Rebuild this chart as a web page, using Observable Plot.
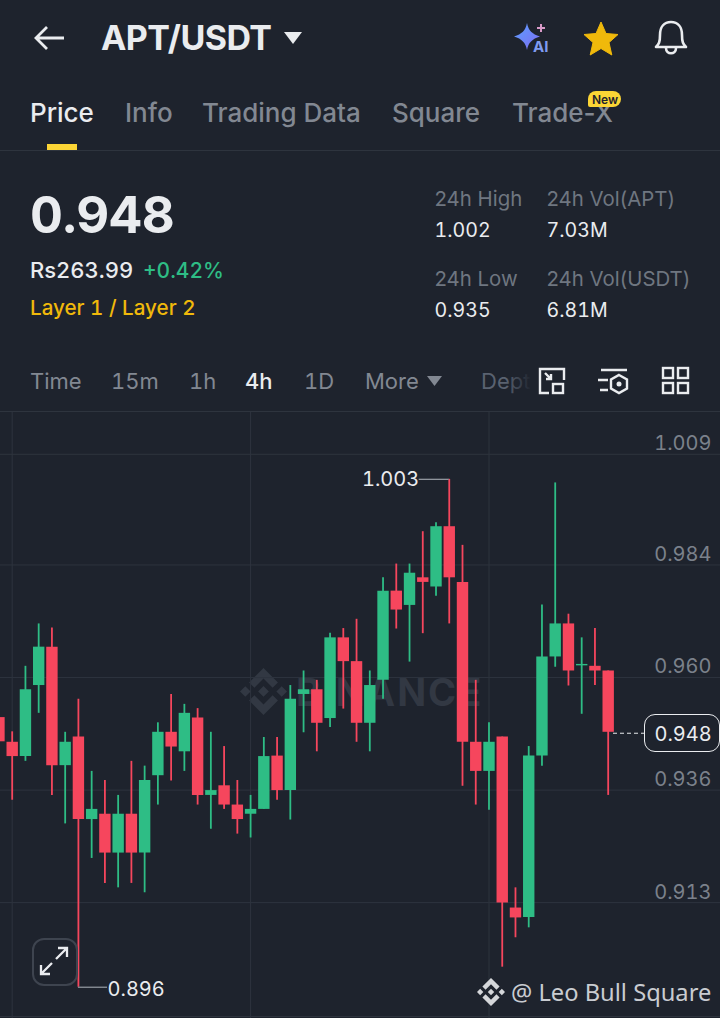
<!DOCTYPE html>
<html>
<head>
<meta charset="utf-8">
<script src="https://cdn.jsdelivr.net/npm/d3@7"></script>
<script src="https://cdn.jsdelivr.net/npm/@observablehq/plot@0.6"></script>
<style>
html,body{margin:0;padding:0;background:#1e232d;}
#page{position:relative;width:720px;height:1018px;overflow:hidden;background:#1e232d;font-family:Inter,"Noto Sans",sans-serif;color:#eaecef;font-variant-numeric:tabular-nums;}
.t{position:absolute;line-height:1;white-space:nowrap;transform:translateY(-50%);}
.b{position:absolute;}
svg.i{position:absolute;overflow:visible;}
#chart{position:absolute;left:0;top:412px;width:720px;height:606px;}
#chart svg{background:transparent!important;}
</style>
</head>
<body>
<div id="page"></div>
<script>
// ---------- chart data (price per 4h candle, oldest first) ----------
const candleIndex = d3.range(-1, 46);
const openPrice = [.9513,.9461,.9431,.9581,.9663,.9412,.9472,.9300,.9311,.9231,.9311,.9231,.9391,.9482,.9441,.9512,.9350,.9370,.9330,.9311,.9321,.9432,.9360,.9562,.9572,.9511,.9683,.9632,.9501,.9592,.9784,.9753,.9813,.9793,.9925,.9803,.9461,.9400,.9472,.9119,.9100,.9432,.9642,.9713,.9623,.9622,.9612];
const closePrice = [.9462,.9431,.9572,.9663,.9412,.9461,.9300,.9321,.9231,.9311,.9231,.9381,.9482,.9451,.9522,.9350,.9360,.9330,.9300,.9321,.9431,.9360,.9552,.9572,.9501,.9683,.9632,.9501,.9581,.9784,.9743,.9823,.9803,.9925,.9813,.9461,.9400,.9461,.9129,.9099,.9432,.9642,.9713,.9612,.9626,.9612,.9482];
const highPrice = [.9513,.9483,.9622,.9713,.9704,.9482,.9552,.9400,.9381,.9350,.9421,.9411,.9502,.9562,.9541,.9532,.9482,.9452,.9381,.9350,.9471,.9471,.9581,.9612,.9592,.9693,.9703,.9723,.9612,.9813,.9843,.9843,.9914,.9934,1.003,.9884,.9592,.9502,.9472,.9160,.9452,.9754,1.0022,.9734,.9683,.9703,.9612];
const lowPrice = [.9462,.9340,.9421,.9522,.9350,.9291,.8960,.9220,.9169,.9160,.9169,.9150,.9330,.9380,.9400,.9330,.9280,.9321,.9270,.9262,.9321,.9340,.9299,.9481,.9441,.9492,.9531,.9461,.9441,.9552,.9702,.9631,.9692,.9773,.9713,.9369,.9330,.9319,.9000,.9059,.9079,.9411,.9620,.9580,.9520,.9581,.9350];
const yTickValues = [1.0086, 0.9841, 0.9598, 0.9361, 0.9130];
const xGridIndex = [0, 18, 36];
const lastPrice = 0.948;
const highMarker = {index: 33, price: 1.003, label: "1.003"};
const lowMarker = {index: 5, price: 0.896, label: "0.896"};

const candles = candleIndex.map((i, k) => ({i, o: openPrice[k], c: closePrice[k], h: highPrice[k], l: lowPrice[k]}));

// ---------- page text ----------
const MUTED = "#828892", DIM = "#6f7680";
const tabs = [["Price",30,"#eaecef",500],["Info",125,MUTED,500],["Trading Data",202,MUTED,500],["Square",392,MUTED,500],["Trade-X",512,MUTED,500]];
const statLabels = [["24h High",434.500,199],["24h Vol(APT)",546.500,199],["24h Low",434.500,279],["24h Vol(USDT)",546.500,279]];
const statValues = [["1.002",434.500,231],["7.03M",546.500,231],["0.935",434.500,311],["6.81M",546.500,311]];
const periods = [["Time",30,MUTED,400],["15m",111,MUTED,400],["1h",189,MUTED,400],["4h",245,"#eaecef",500],["1D",304,MUTED,400],["More",365,MUTED,400]];

const page = document.getElementById("page");
function T(text,x,y,size,color,weight,extra){
  const d=document.createElement("div");d.className="t";d.textContent=text;
  d.style.cssText=`left:${x}px;top:${y}px;font-size:${size}px;color:${color};font-weight:${weight||400};${extra||""}`;
  page.appendChild(d);return d;
}
function B(x,y,w,h,css){
  const d=document.createElement("div");d.className="b";
  d.style.cssText=`left:${x}px;top:${y}px;width:${w}px;height:${h}px;${css||""}`;
  page.appendChild(d);return d;
}
function S(x,y,w,h,vb,inner){
  const n=document.createElement("div");
  n.innerHTML=`<svg class="i" style="left:${x}px;top:${y}px" width="${w}" height="${h}" viewBox="${vb}" xmlns="http://www.w3.org/2000/svg">${inner}</svg>`;
  page.appendChild(n.firstChild);
}
const PROP = "font-variant-numeric:normal;";
const logoPath="M38.73 53.2l24.59-24.58 24.6 24.6 14.3-14.31L63.32 0 24.42 38.9l14.31 14.3zM0 63.31l14.3-14.31 14.31 14.31-14.31 14.3zM38.73 73.41l24.59 24.59 24.6-24.6 14.31 14.29-38.9 38.91-38.91-38.88v-.03zM97.99 63.31l14.3-14.31 14.32 14.3-14.31 14.32zM77.83 63.3L63.32 48.78 52.59 59.51l-1.24 1.23-2.54 2.54 14.51 14.5 14.51-14.47z";

// header
S(34,24,32,28,"0 0 32 28",`<path d="M30 14H2M13 3 2 14l11 11" fill="none" stroke="#eaecef" stroke-width="2.8"/>`);
T("APT/USDT",101,38,34,"#eaecef",700,"letter-spacing:-.55px;"+PROP);
S(284,32,18,12,"0 0 18 12",`<path d="M0 0h18L9 12z" fill="#eaecef"/>`);
S(514,22,38,32,"0 0 38 32",`<defs><linearGradient id="g" x1="0" y1="0" x2="1" y2="1"><stop offset="0" stop-color="#5aa0ff"/><stop offset="1" stop-color="#7f6bf0"/></linearGradient></defs><path d="M13 1c1.500 7.500 5 11 13 13.500-8 2.500-11.500 6-13 13.500-1.500-7.500-5-11-13-13.500 8-2.500 11.500-6 13-13.500z" fill="url(#g)"/><path d="M27 2v8M23 6h8" stroke="#d99ac8" stroke-width="2"/><text x="19" y="30" font-size="15" font-weight="700" fill="#7f9bf0" font-family="Inter">AI</text>`);
S(584,22,34,33,"0 0 34 33",`<path d="M17 0l5 11.500 12 1-9 8 2.800 12.500L17 26.500 6.200 33 9 20.500l-9-8 12-1z" fill="#f0b90b" stroke="#f0b90b" stroke-linejoin="round"/>`);
S(654,20,34,36,"0 0 34 36",`<path d="M2 27c3-3 4-5 4-12C6 7 10 2 17 2s11 5 11 13c0 7 1 9 4 12z" fill="none" stroke="#eaecef" stroke-width="2.600" stroke-linejoin="round"/><path d="M12 28c0 7 10 7 10 0" fill="none" stroke="#eaecef" stroke-width="2.600"/>`);

// tabs
tabs.forEach(([s,x,c,w])=>T(s,x,113,26,c,w,PROP));
B(588,91,33,16,"background:#fcd535;border-radius:8px 8px 8px 2px;");
T("New",592,99.500,12,"#1e232d",600);
B(47,144,30,6,"background:#fcd535;");
B(0,150,720,1,"background:#2e343e;");

// price block
T("0.948",30,214,51,"#eaecef",700,"letter-spacing:-.2px;");
T("Rs263.99",30,270,22,"#eaecef",500);
T("+0.42%",143,270,21,"#2ebd85",500);
T("Layer 1 / Layer 2",30,308,20.600,"#f0b90b",500);
statLabels.forEach(([s,x,y])=>T(s,x,y,20.400,DIM,400,PROP));
statValues.forEach(([s,x,y])=>T(s,x,y,19.600,"#eaecef",400));

// period row
periods.forEach(([s,x,c,w])=>T(s,x,381,22,c,w));
S(427,376,15,10,"0 0 15 10",`<path d="M0 0h15L7.500 10z" fill="#828892"/>`);
T("Dept",481,381,22,"#5a6270",400);
B(506,366,32,30,"background:linear-gradient(90deg,rgba(30,35,45,0),#1e232d 80%);");
S(538,367,28,28,"0 0 28 28",`<g fill="none" stroke="#eaecef" stroke-width="2.400"><path d="M11 26H2V2h24v11"/><rect x="15" y="17" width="10" height="9"/><path d="M7 6l6 6M13 7v5H8"/></g>`);
S(598,367,31,28,"0 0 31 28",`<g fill="none" stroke="#eaecef" stroke-width="2.400"><path d="M3 3h26M0 13h10M2 23h8"/><path d="M21 8l8 4.500v9L21 26l-8-4.500v-9z"/></g><circle cx="21" cy="17" r="2.500" fill="#eaecef"/>`);
S(662,367,27,27,"0 0 27 27",`<g fill="none" stroke="#eaecef" stroke-width="2.400"><rect x="1" y="1" width="10" height="10"/><rect x="16" y="1" width="10" height="10"/><rect x="1" y="16" width="10" height="10"/><rect x="16" y="16" width="10" height="10"/></g>`);
B(0,411,720,1,"background:#2e343e;");
B(0,1016,720,1,"background:#2e343e;");

// watermark sits below the transparent chart svg
S(240,668,47,47,"0 0 126.61 126.61",`<path d="${logoPath}" fill="#323843"/>`);
T("BINANCE",296,692,38,"#323843",700,"letter-spacing:2px;");

// ---------- chart ----------
const up = d => d.c >= d.o;
const GREEN = "#2ebd85", RED = "#f6465d";
const chart = Plot.plot({
  width: 720, height: 606,
  marginTop: 0, marginRight: 0, marginBottom: 0, marginLeft: 0,
  style: {background: "transparent"},
  x: {type: "linear", domain: [-0.883, 53.48], range: [0, 720], axis: null},
  y: {type: "log", domain: [0.8898, 1.0180], range: [606, 0], axis: null},
  marks: [
    Plot.ruleY(yTickValues, {stroke: "#2e343e", strokeWidth: 1}),
    Plot.ruleX(xGridIndex, {stroke: "#2e343e", strokeWidth: 1}),
    Plot.axisY(yTickValues, {
      anchor: "right", tickSize: 0, tickPadding: 0, label: null,
      tickFormat: d3.format(".3f"), textAnchor: "end", dx: -9, dy: -10.500,
      fontSize: 20, fill: "#7b818b", fontFamily: "Inter"
    }),
    Plot.ruleX(candles, {x: "i", y1: "l", y2: "h", stroke: d => up(d) ? GREEN : RED, strokeWidth: 1.8}),
    Plot.ruleX(candles, {x: "i", y1: "o", y2: "c", stroke: d => up(d) ? GREEN : RED, strokeWidth: 11.4}),
    Plot.ruleY([lastPrice], {x1: 45.4, x2: 47.74, stroke: "#eaecef", strokeWidth: 1, strokeDasharray: "4 3"}),
    Plot.ruleY([highMarker], {y: "price", x1: d => d.index, x2: d => d.index - 2.27, stroke: "#8f949c", strokeWidth: 1.3}),
    Plot.text([highMarker], {x: d => d.index - 2.27, y: "price", text: "label", textAnchor: "end", fill: "#eaecef", fontSize: 20, fontFamily: "Inter", dy: 0}),
    Plot.ruleY([lowMarker], {y: "price", x1: d => d.index, x2: d => d.index + 2.2, stroke: "#8f949c", strokeWidth: 1.3}),
    Plot.text([lowMarker], {x: d => d.index + 2.2, y: "price", text: "label", textAnchor: "start", fill: "#eaecef", fontSize: 20, fontFamily: "Inter", dy: 2})
  ]
});
const wrap = document.createElement("div");
wrap.id = "chart";
wrap.appendChild(chart);
page.appendChild(wrap);

// current-price tag, placed through the y scale
const tagY = 412 + chart.scale("y").apply(lastPrice);
B(643.500, tagY - 18.500, 74, 36, "background:#1e232d;border:1.300px solid #eaecef;border-radius:11px;box-sizing:content-box;");
T(d3.format(".3f")(lastPrice), 654.500, tagY + 1, 20, "#eaecef", 400);

// expand button
B(32,938,42,44,"border:2px solid #3e444f;border-radius:12px;");
S(39,946,30,30,"0 0 30 30",`<path d="M17 13 28 2M19 2h9v9M13 17 2 28M2 19v9h9" fill="none" stroke="#eaecef" stroke-width="2.300"/>`);

// footer credit
S(477,978,28,28,"0 0 126.61 126.61",`<path d="${logoPath}" fill="#d5d7da"/>`);
T("@ Leo Bull Square",511,992.500,23.700,"#c9ccd1",400,'font-family:"Noto Sans";');
</script>
</body>
</html>
